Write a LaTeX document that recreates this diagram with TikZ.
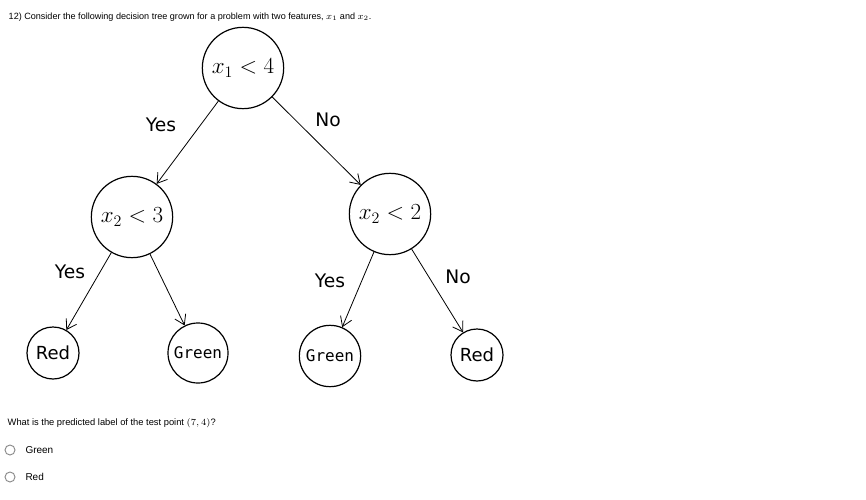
\documentclass[tikz,border=0pt]{standalone}
\usepackage{fontspec}
\setmainfont{Liberation Sans}
\newfontfamily\labelfont{DejaVu Sans}
\newfontfamily\leafmono{DejaVu Sans Mono}
\usepackage{tikz}
\usetikzlibrary{arrows.meta, positioning}
\definecolor{radioGray}{HTML}{8A8A8A}

\begin{document}
\begin{tikzpicture}[
  x=0.75pt, y=-0.75pt,
  test/.style={draw, circle, line width=0.9pt, minimum size=61pt, inner sep=1pt,
               font=\fontsize{18.5}{20}\selectfont},
  leaf/.style={draw, circle, line width=0.9pt, inner sep=1pt},
  branch/.style={font=\labelfont\fontsize{14}{16}\selectfont},
  edge/.style={line width=0.6pt, -{Straight Barb[length=7pt, width=9pt]}},
  radio/.style={draw=radioGray, circle, line width=0.7pt, minimum size=7.5pt, inner sep=0pt},
]
  \useasboundingbox (0,0) rectangle (866,499);

  \node[anchor=west, font=\fontsize{6.8}{8}\selectfont] (question) at (4,17)
    {12) Consider the following decision tree grown for a problem with two features, $x_1$ and $x_2$.};

  % tree
  \node[test] (root) at (243,68) {$x_1 < 4$};
  \node[test] (left) at (132,217) {$x_2 < 3$};
  \node[test] (right) at (390,214) {$x_2 < 2$};
  \node[leaf, minimum size=39pt, font=\labelfont\fontsize{13.5}{15}\selectfont] (redA) at (53,353) {Red};
  \node[leaf, minimum size=45pt, font=\leafmono\fontsize{12}{14}\selectfont] (greenA) at (198,353) {Green};
  \node[leaf, minimum size=46pt, font=\leafmono\fontsize{12}{14}\selectfont] (greenB) at (330,356) {Green};
  \node[leaf, minimum size=39pt, font=\labelfont\fontsize{13.5}{15}\selectfont] (redB) at (477,355) {Red};

  \draw[edge] (root) -- (left);
  \draw[edge] (root) -- (right);
  \draw[edge] (left) -- (redA);
  \draw[edge] (left) -- (greenA);
  \draw[edge] (right) -- (greenB);
  \draw[edge] (right) -- (redB);

  \node[branch] (yesA) at (161,125) {Yes};
  \node[branch] (noA) at (328,120) {No};
  \node[branch] (yesB) at (70,272) {Yes};
  \node[branch] (yesC) at (330,281) {Yes};
  \node[branch] (noB) at (458,277) {No};

  % answer choices
  \node[anchor=west, font=\fontsize{7}{8}\selectfont] (prompt) at (3,423)
    {What is the predicted label of the test point $(7,4)$?};
  \node[radio] (optA) at (10,450) {};
  \node[anchor=west, font=\fontsize{7.5}{9}\selectfont, right=4pt of optA] (greenOpt) {Green};
  \node[radio] (optB) at (10,477) {};
  \node[anchor=west, font=\fontsize{7.5}{9}\selectfont, right=4pt of optB] (redOpt) {Red};
\end{tikzpicture}
\end{document}
